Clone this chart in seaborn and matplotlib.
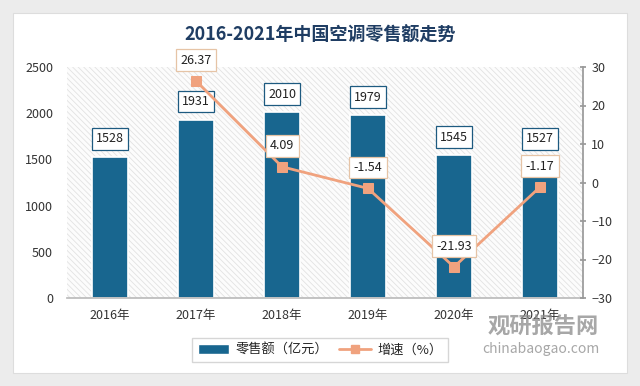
import numpy as np
import pandas as pd
import matplotlib
matplotlib.use("Agg")
import matplotlib.pyplot as plt
from matplotlib.patches import Rectangle
from matplotlib.lines import Line2D
from matplotlib.patches import Patch
import seaborn as sns

years = ["2016年", "2017年", "2018年", "2019年", "2020年", "2021年"]
sales = [1528, 1931, 2010, 1979, 1545, 1527]
growth = [np.nan, 26.37, 4.09, -1.54, -21.93, -1.17]
growth_labels = ["", "26.37", "4.09", "-1.54", "-21.93", "-1.17"]
left_ticks = [0, 500, 1000, 1500, 2000, 2500]
right_ticks = [-30, -20, -10, 0, 10, 20, 30]

sns.set_theme(style="white")
plt.rcParams['font.family'] = ['Noto Sans CJK SC', 'DejaVu Sans']
plt.rcParams['hatch.linewidth'] = 0.6

BAR = "#18668f"
LINE = "#f0a27e"
TXT = "#333333"

fig = plt.figure(figsize=(6.4, 3.86), dpi=100, facecolor="#ececec")
# white card
card = Rectangle((13/640, 1-373/386), 614/640, 360/386, transform=fig.transFigure,
                 facecolor="white", edgecolor="#dddddd", lw=0.8, zorder=-10)
fig.patches.append(card)

ax = fig.add_axes([67/640, 1-298/386, 516/640, 231/386])
ax.set_facecolor("#fcfcfc")
hatch = Rectangle((0, 0), 1, 1, transform=ax.transAxes, facecolor="none",
                  edgecolor="#e2e2e2", hatch="\\\\\\\\\\\\", lw=0, zorder=0)
ax.add_patch(hatch)

df = pd.DataFrame({"year": years, "sales": sales, "growth": growth})
sns.barplot(data=df, x="year", y="sales", color=BAR, width=0.42, ax=ax,
            edgecolor="white", linewidth=1.2, saturation=1, zorder=2)
ax.set_ylim(0, 2500)
ax.set_yticks(left_ticks)
ax.set_xlim(-0.5, 5.5)
ax.set_xlabel("")
ax.set_ylabel("")
for s in ["top", "left", "right"]:
    ax.spines[s].set_visible(False)
ax.spines["bottom"].set_color("#bbbbbb")
ax.tick_params(axis="y", length=0, labelsize=9, colors=TXT, pad=10)
ax.tick_params(axis="x", length=0, labelsize=9, colors=TXT, pad=8)

for i, v in enumerate(sales):
    ax.annotate(str(v), (i, v), xytext=(0, 13), textcoords="offset points",
                ha="center", va="center", fontsize=9, color="#222222", zorder=5,
                bbox=dict(boxstyle="square,pad=0.35", fc="white", ec="#1d5a80", lw=0.9))

ax2 = ax.twinx()
xpos = np.arange(len(years))
sns.lineplot(x=xpos, y=growth, ax=ax2, color=LINE, lw=2, marker="s",
             markersize=7, markeredgecolor=LINE, zorder=4)
ax2.set_ylim(-30, 30)
ax2.set_yticks(right_ticks)
ax2.set_xlim(-0.5, 5.5)
for s in ["top", "left", "bottom"]:
    ax2.spines[s].set_visible(False)
ax2.spines["right"].set_color("#999999")
ax2.tick_params(axis="y", length=4, direction="inout", color="#999999",
                labelsize=9, colors=TXT, pad=4)
ax2.tick_params(axis="y", colors="#999999", labelcolor=TXT)

for i, (v, lab) in enumerate(zip(growth, growth_labels)):
    if lab:
        ax2.annotate(lab, (i, v), xytext=(0, 15), textcoords="offset points",
                     ha="center", va="center", fontsize=9, color="#222222", zorder=6,
                     bbox=dict(boxstyle="square,pad=0.35", fc="white", ec="#e6c4a6", lw=0.9))

fig.text(0.5, 1-35/386, "2016-2021年中国空调零售额走势", ha="center", va="center",
         fontsize=13, fontweight="bold", color="#1f3d63")

handles = [Patch(facecolor=BAR, edgecolor="white"),
           Line2D([0], [0], color=LINE, lw=2, marker="s", markersize=6)]
fig.legend(handles, ["零售额（亿元）", "增速（%）"], loc="center",
           bbox_to_anchor=(320/640, 1-350/386), ncol=2, frameon=True,
           fancybox=False, edgecolor="#cccccc", fontsize=9.5, handlelength=2.4,
           columnspacing=0.8, handletextpad=0.5, borderpad=0.4)

# watermark
fig.text(543/640, 1-327/386, "观研报告网", ha="center", va="center", fontsize=16,
         fontweight="bold", color="#8a8a8a", alpha=0.75)
fig.text(541/640, 1-349/386, "chinabaogao.com", ha="center", va="center", fontsize=10,
         color="#8a8a8a", alpha=0.75)

fig.savefig("out.png", dpi=100, facecolor=fig.get_facecolor())
